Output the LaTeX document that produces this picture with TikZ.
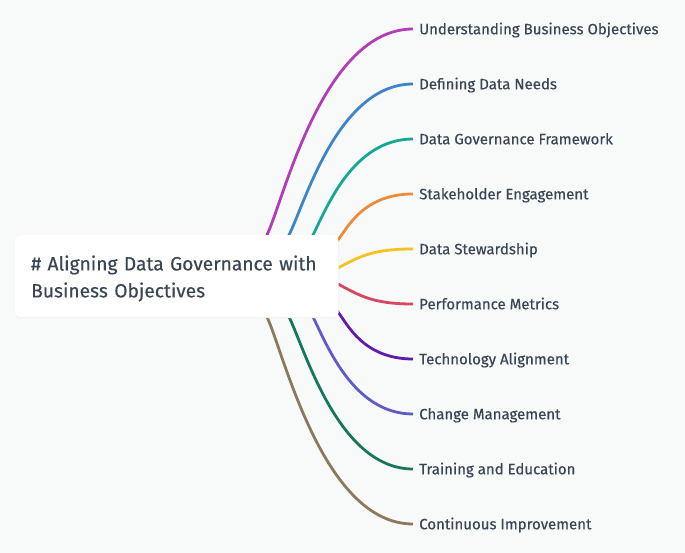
\documentclass[tikz,border=0pt]{standalone}
\usepackage{fontspec}
\setmainfont{Fira Sans}[FakeBold=0.35]
\usetikzlibrary{calc}
\definecolor{bg}{HTML}{F8F9F9}
\definecolor{txt}{HTML}{3A4556}
\definecolor{cA}{HTML}{B13DB8}
\definecolor{cB}{HTML}{3E84C7}
\definecolor{cC}{HTML}{16A896}
\definecolor{cD}{HTML}{EC8B3B}
\definecolor{cE}{HTML}{F5C224}
\definecolor{cF}{HTML}{D5485F}
\definecolor{cG}{HTML}{5E1DAA}
\definecolor{cH}{HTML}{5E5DC4}
\definecolor{cI}{HTML}{17775E}
\definecolor{cJ}{HTML}{8B7B5C}
\begin{document}
\begin{tikzpicture}[x=1pt,y=-1pt,
  leaf/.style={anchor=west, inner xsep=6pt, inner ysep=0pt, text height=10.6pt, text depth=0pt,
    text=txt, font=\fontsize{15}{18}\selectfont},
  rootbox/.style={anchor=north west, fill=white, rounded corners=5pt, minimum width=323pt,
    minimum height=82pt, inner xsep=16pt, align=left, text width=291pt, text=txt,
    font=\fontsize{19.2}{27}\selectfont},
  link/.style={line width=2.8pt}]
\fill[bg] (0,0) rectangle (685,553);
\useasboundingbox (0,0) rectangle (685,553);
% leaves
\node[leaf] (l1) at (413,29) {Understanding Business Objectives};
\node[leaf] (l2) at (413,84) {Defining Data Needs};
\node[leaf] (l3) at (413,139) {Data Governance Framework};
\node[leaf] (l4) at (413,194) {Stakeholder Engagement};
\node[leaf] (l5) at (413,249) {Data Stewardship};
\node[leaf] (l6) at (413,304) {Performance Metrics};
\node[leaf] (l7) at (413,359) {Technology Alignment};
\node[leaf] (l8) at (413,414) {Change Management};
\node[leaf] (l9) at (413,469) {Training and Education};
\node[leaf] (l10) at (413,524) {Continuous Improvement};
% hidden link origins and emergence points
\coordinate (o1) at (262,246);   \coordinate (s1) at (267,235);
\coordinate (o2) at (283.6,245.7); \coordinate (s2) at (289,235);
\coordinate (o3) at (307.6,245.7); \coordinate (s3) at (313,235);
\coordinate (o4) at (330.6,249.5); \coordinate (s4) at (338,240);
\coordinate (o5) at (327.4,273.6); \coordinate (s5) at (338,268);
\coordinate (o6) at (327.4,278.4); \coordinate (s6) at (338,284);
\coordinate (o7) at (330.6,302.5); \coordinate (s7) at (338,312);
\coordinate (o8) at (307.6,306.3); \coordinate (s8) at (313,317);
\coordinate (o9) at (283.6,306.3); \coordinate (s9) at (289,317);
\coordinate (o10) at (262,306);  \coordinate (s10) at (267,317);
% links
\draw[link,cA] (o1) -- (s1) .. controls (284,199) and (323,29) .. (l1.west);
\draw[link,cB] (o2) -- (s2) .. controls (304.75,203.8) and (338,84) .. (l2.west);
\draw[link,cC] (o3) -- (s3) .. controls (326.5,208.2) and (353,139) .. (l3.west);
\draw[link,cD] (o4) -- (s4) .. controls (347.3,228.2) and (363,194) .. (l4.west);
\draw[link,cE] (o5) -- (s5) .. controls (360,256.25) and (373,249) .. (l5.west);
\draw[link,cF] (o6) -- (s6) .. controls (360,295.75) and (373,304) .. (l6.west);
\draw[link,cG] (o7) -- (s7) .. controls (347.3,323.8) and (363,359) .. (l7.west);
\draw[link,cH] (o8) -- (s8) .. controls (326.5,343.8) and (353,414) .. (l8.west);
\draw[link,cI] (o9) -- (s9) .. controls (304.75,348.2) and (338,469) .. (l9.west);
\draw[link,cJ] (o10) -- (s10) .. controls (284,353) and (323,524) .. (l10.west);
% root
\fill[black!5, rounded corners=5pt] (15,236) rectangle (338.5,318);
\node[rootbox] (root) at (15,235) {\rule{0pt}{19.5pt}\# Aligning Data Governance with\\Business Objectives};
\end{tikzpicture}
\end{document}
